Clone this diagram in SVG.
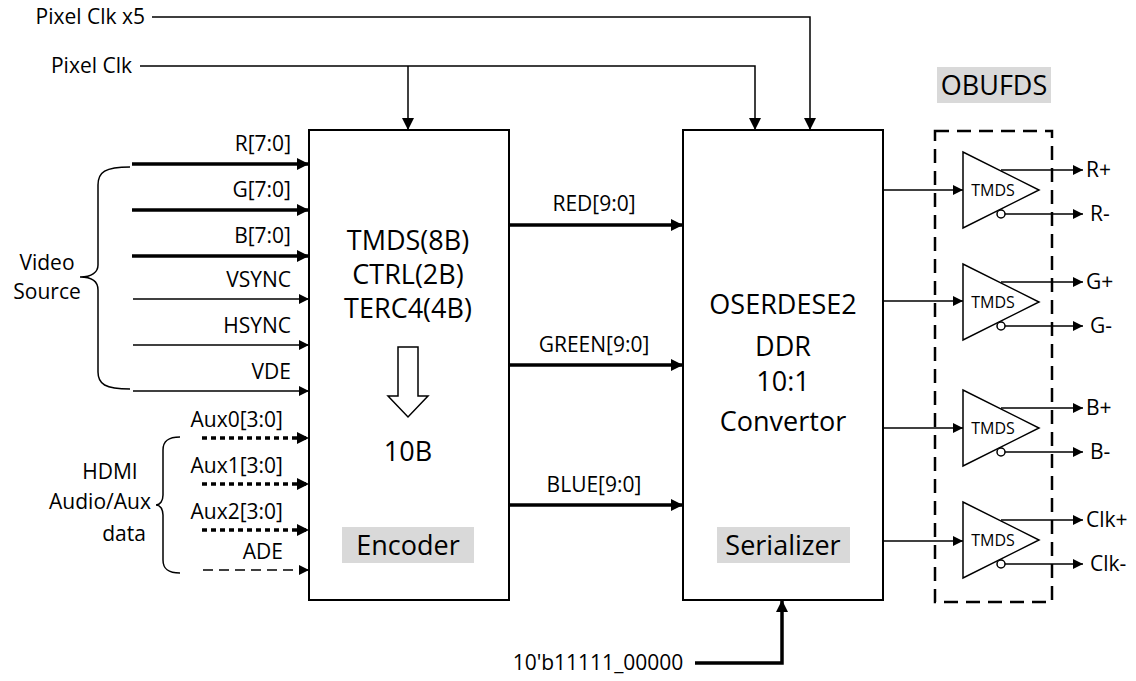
<svg xmlns="http://www.w3.org/2000/svg" width="1136" height="681" viewBox="0 0 1136 681">
<style>
text{font-family:"Open Sans","Noto Sans",sans-serif;fill:#000}
.s{font-size:21px}.l{font-size:27px}.t{font-size:16px}
.box{fill:#fff;stroke:#000;stroke-width:2}
.th{stroke:#000;stroke-width:3.5;fill:none}
.tn{stroke:#000;stroke-width:1.5;fill:none}
.gl{fill:#d9d9d9}
</style>
<defs>
<marker id="a" viewBox="0 0 10 10" refX="10" refY="5" markerWidth="12" markerHeight="10" markerUnits="userSpaceOnUse" orient="auto"><path d="M0,0L10,5L0,10z"/></marker>
<marker id="ab" viewBox="0 0 10 10" refX="10" refY="5" markerWidth="14" markerHeight="12" markerUnits="userSpaceOnUse" orient="auto"><path d="M0,0L10,5L0,10z"/></marker>
</defs>
<g id="connectors">
<path class="tn" d="M152,17H810V130" marker-end="url(#ab)"/>
<path class="tn" d="M140,66H755V130" marker-end="url(#ab)"/>
<path class="tn" d="M408,66V130" marker-end="url(#ab)"/>
<path class="th" d="M132,164H309" marker-end="url(#ab)"/>
<path class="th" d="M132,210H309" marker-end="url(#ab)"/>
<path class="th" d="M132,256H309" marker-end="url(#ab)"/>
<path class="tn" d="M133,299H309" marker-end="url(#a)"/>
<path class="tn" d="M133,345H309" marker-end="url(#a)"/>
<path class="tn" d="M133,391H309" marker-end="url(#a)"/>
<path class="th" d="M202,438H309" stroke-dasharray="5,4" marker-end="url(#ab)"/>
<path class="th" d="M202,484H309" stroke-dasharray="5,4" marker-end="url(#ab)"/>
<path class="th" d="M202,530H309" stroke-dasharray="5,4" marker-end="url(#ab)"/>
<path class="tn" d="M203,570H309" stroke-dasharray="10,6" marker-end="url(#a)"/>
<path class="th" d="M509,225H683" marker-end="url(#ab)"/>
<path class="th" d="M509,365H683" marker-end="url(#ab)"/>
<path class="th" d="M509,505H683" marker-end="url(#ab)"/>
<path class="th" d="M695,663H782V600" marker-end="url(#ab)"/>
<path class="tn" d="M883,190H963" marker-end="url(#a)"/>
<path class="tn" d="M883,301H963" marker-end="url(#a)"/>
<path class="tn" d="M883,428H963" marker-end="url(#a)"/>
<path class="tn" d="M883,541H963" marker-end="url(#a)"/>
<path class="tn" d="M1001,170H1083" marker-end="url(#a)"/>
<path class="tn" d="M1005,214H1083" marker-end="url(#a)"/>
<path class="tn" d="M1001,282H1083" marker-end="url(#a)"/>
<path class="tn" d="M1005,326H1083" marker-end="url(#a)"/>
<path class="tn" d="M1001,408H1083" marker-end="url(#a)"/>
<path class="tn" d="M1005,452H1083" marker-end="url(#a)"/>
<path class="tn" d="M1001,520H1083" marker-end="url(#a)"/>
<path class="tn" d="M1005,564H1083" marker-end="url(#a)"/>
<path class="tn" stroke-width="2" d="M130,167C105,167 98,172 98,185V265C98,272 92,277 80,277C92,277 98,282 98,290V372C98,384 105,389 130,389"/>
<path class="tn" stroke-width="2" d="M180,437C168,437 163,441 163,450V495C163,501 160,505 156,505C160,505 163,509 163,515V560C163,569 168,573 180,573"/>
</g>
<g id="labels">
<text class="s" x="145" y="24" text-anchor="end">Pixel Clk x5</text>
<text class="s" x="132" y="73" text-anchor="end">Pixel Clk</text>
<text class="s" x="291" y="151" text-anchor="end">R[7:0]</text>
<text class="s" x="291" y="197" text-anchor="end">G[7:0]</text>
<text class="s" x="291" y="243" text-anchor="end">B[7:0]</text>
<text class="s" x="291" y="287" text-anchor="end">VSYNC</text>
<text class="s" x="291" y="333" text-anchor="end">HSYNC</text>
<text class="s" x="291" y="379" text-anchor="end">VDE</text>
<text class="s" x="283" y="427" text-anchor="end">Aux0[3:0]</text>
<text class="s" x="283" y="473" text-anchor="end">Aux1[3:0]</text>
<text class="s" x="283" y="519" text-anchor="end">Aux2[3:0]</text>
<text class="s" x="283" y="559" text-anchor="end">ADE</text>
<text class="s" x="47" y="270" text-anchor="middle">Video</text>
<text class="s" x="47" y="299" text-anchor="middle">Source</text>
<text class="s" x="110" y="479" text-anchor="middle">HDMI</text>
<text class="s" x="100" y="509" text-anchor="middle">Audio/Aux</text>
<text class="s" x="124" y="541" text-anchor="middle">data</text>
<text class="s" x="594" y="211" text-anchor="middle">RED[9:0]</text>
<text class="s" x="594" y="352" text-anchor="middle">GREEN[9:0]</text>
<text class="s" x="594" y="492" text-anchor="middle">BLUE[9:0]</text>
<text class="s" x="598" y="670" text-anchor="middle">10'b11111_00000</text>
<text class="s" x="1086" y="177">R+</text>
<text class="s" x="1090" y="221">R-</text>
<text class="s" x="1086" y="289">G+</text>
<text class="s" x="1090" y="333">G-</text>
<text class="s" x="1086" y="415">B+</text>
<text class="s" x="1090" y="459">B-</text>
<text class="s" x="1086" y="527">Clk+</text>
<text class="s" x="1090" y="571">Clk-</text>
</g>
<g id="encoder">
<rect class="box" x="309" y="130" width="200" height="470"/>
<text class="l" x="408" y="250" text-anchor="middle">TMDS(8B)</text>
<text class="l" x="408" y="284" text-anchor="middle">CTRL(2B)</text>
<text class="l" x="408" y="318" text-anchor="middle">TERC4(4B)</text>
<path d="M398,347H418V396H428L408,417L388,396H398Z" fill="#fff" stroke="#000" stroke-width="1.5"/>
<text class="l" x="408" y="461" text-anchor="middle">10B</text>
<rect class="gl" x="342" y="527" width="132" height="36"/>
<text class="l" x="408" y="555" text-anchor="middle">Encoder</text>
</g>
<g id="serializer">
<rect class="box" x="683" y="130" width="200" height="470"/>
<text class="l" x="783" y="314" text-anchor="middle">OSERDESE2</text>
<text class="l" x="783" y="356" text-anchor="middle">DDR</text>
<text class="l" x="783" y="391" text-anchor="middle">10:1</text>
<text class="l" x="783" y="431" text-anchor="middle">Convertor</text>
<rect class="gl" x="717" y="527" width="133" height="36"/>
<text class="l" x="783" y="555" text-anchor="middle">Serializer</text>
</g>
<g id="obufds">
<rect class="gl" x="937" y="67" width="114" height="36"/>
<text class="l" x="994" y="95" text-anchor="middle">OBUFDS</text>
<rect x="935" y="131" width="117" height="471" fill="none" stroke="#000" stroke-width="2.5" stroke-dasharray="14,8"/>
</g>
<g id="buf-r"><path d="M963,152V228L1039,190Z" fill="#fff" stroke="#000" stroke-width="1.5"/><circle cx="1001" cy="214" r="4" fill="#fff" stroke="#000" stroke-width="1.5"/><text class="t" x="993" y="196" text-anchor="middle">TMDS</text></g>
<g id="buf-g"><path d="M963,264V340L1039,302Z" fill="#fff" stroke="#000" stroke-width="1.5"/><circle cx="1001" cy="326" r="4" fill="#fff" stroke="#000" stroke-width="1.5"/><text class="t" x="993" y="308" text-anchor="middle">TMDS</text></g>
<g id="buf-b"><path d="M963,390V466L1039,428Z" fill="#fff" stroke="#000" stroke-width="1.5"/><circle cx="1001" cy="452" r="4" fill="#fff" stroke="#000" stroke-width="1.5"/><text class="t" x="993" y="434" text-anchor="middle">TMDS</text></g>
<g id="buf-clk"><path d="M963,502V578L1039,540Z" fill="#fff" stroke="#000" stroke-width="1.5"/><circle cx="1001" cy="564" r="4" fill="#fff" stroke="#000" stroke-width="1.5"/><text class="t" x="993" y="546" text-anchor="middle">TMDS</text></g>
</svg>
